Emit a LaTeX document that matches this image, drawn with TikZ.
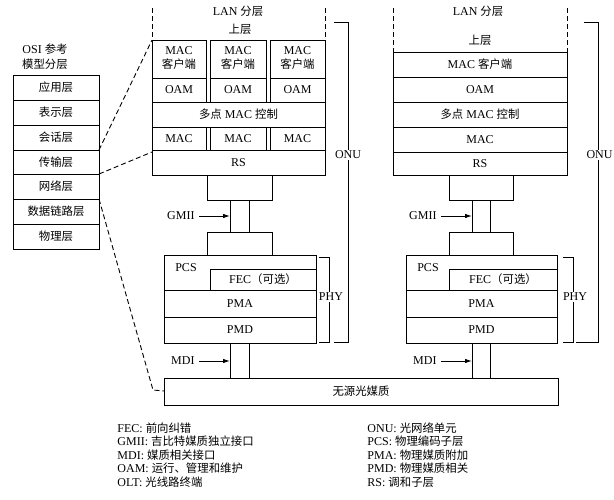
\documentclass[tikz,border=0pt]{standalone}
\usepackage{fontspec}
\setmainfont{Liberation Serif}
\newfontfamily\cjk{Noto Sans CJK SC}[Scale=0.95]
\newcommand{\zh}[1]{{\cjk #1}}
\usetikzlibrary{arrows.meta}
\begin{document}
\begin{tikzpicture}[x=1pt,y=-1pt,line width=0.9pt,
  txt/.style={font=\fontsize{12}{13}\selectfont,inner sep=0pt},
  dsh/.style={dash pattern=on 5pt off 3pt},
  arr/.style={-{Latex[length=7pt,width=4.5pt]}},
  brk/.style={}]
\useasboundingbox (0,0) rectangle (614,500);
\newcommand{\rbox}[6]{\draw (#2,#3) rectangle (#4,#5); \node[txt] (#1) at ({(#2+#4)/2},{(#3+#5)/2}) {#6};}
\newcommand{\mcl}{\begin{tabular}{@{}c@{}}MAC\\[1pt]\zh{客户端}\end{tabular}}
% OSI
\node[txt] (osit) at (45,49) {OSI \zh{参考}};
\node[txt] (osib) at (45,64) {\zh{模型分层}};
\rbox{o1}{13}{75}{99}{100}{\zh{应用层}}
\rbox{o2}{13}{100}{99}{125}{\zh{表示层}}
\rbox{o3}{13}{125}{99}{150}{\zh{会话层}}
\rbox{o4}{13}{150}{99}{174}{\zh{传输层}}
\rbox{o5}{13}{174}{99}{199}{\zh{网络层}}
\rbox{o6}{13}{199}{99}{224}{\zh{数据链路层}}
\rbox{o7}{13}{224}{99}{249}{\zh{物理层}}
% left stack
\draw[dsh] (152,8) -- (152,40); \draw[dsh] (325,8) -- (325,40);
\node[txt] (lanL) at (238,11) {LAN \zh{分层}};
\node[txt] (upL) at (240,29) {\zh{上层}};
\rbox{mc1}{152}{40}{206}{78}{\mcl}
\rbox{mc2}{210}{40}{266}{78}{\mcl}
\rbox{mc3}{270}{40}{325}{78}{\mcl}
\rbox{oa1}{152}{78}{206}{102}{OAM}
\rbox{oa2}{210}{78}{266}{102}{OAM}
\rbox{oa3}{270}{78}{325}{102}{OAM}
\rbox{mpL}{152}{102}{325}{127}{\zh{多点} MAC \zh{控制}}
\rbox{ma1}{152}{127}{206}{150}{MAC}
\rbox{ma2}{210}{127}{266}{150}{MAC}
\rbox{ma3}{270}{127}{325}{150}{MAC}
\rbox{rsL}{152}{150}{325}{175}{RS}
\draw (207,175) rectangle (272,200);
\draw (230,200) rectangle (249,232);
\draw (207,232) rectangle (272,255);
\draw (164,255) rectangle (316,290);
\node[txt] (pcsL) at (186,268) {PCS};
\rbox{fecL}{210}{269}{316}{290}{FEC\zh{（可选）}}
\rbox{pmaL}{164}{290}{316}{317}{PMA}
\rbox{pmdL}{164}{317}{316}{343}{PMD}
\draw (230,343) -- (230,378); \draw (249,343) -- (249,378);
\node[txt,anchor=east] (gmiiL) at (195,216) {GMII};
\draw[arr] (gmiiL.east) ++(4,0) -- (230,216);
\node[txt,anchor=east] (mdiL) at (195,361) {MDI};
\draw[arr] (mdiL.east) ++(4,0) -- (230,361);
% brackets left
\draw[brk] (319,257) -- (329,257) -- (329,342) -- (319,342);
\node[txt,fill=white,inner sep=1pt] (phyL) at (331,297) {PHY};
\draw[brk] (334,22) -- (348,22) -- (348,342) -- (334,342);
\node[txt,fill=white,inner sep=1pt] (onuL) at (348,155) {ONU};
% right stack
\draw[dsh] (393,8) -- (393,52); \draw[dsh] (567,8) -- (567,52);
\node[txt] (lanR) at (478,11) {LAN \zh{分层}};
\node[txt] (upR) at (480,40) {\zh{上层}};
\rbox{mcR}{393}{52}{567}{77}{MAC \zh{客户端}}
\rbox{oaR}{393}{77}{567}{102}{OAM}
\rbox{mpR}{393}{102}{567}{127}{\zh{多点} MAC \zh{控制}}
\rbox{maR}{393}{127}{567}{152}{MAC}
\rbox{rsR}{393}{152}{567}{175}{RS}
\draw (449,175) rectangle (513,200);
\draw (472,200) rectangle (490,232);
\draw (449,232) rectangle (513,255);
\draw (406,255) rectangle (557,290);
\node[txt] (pcsR) at (428,268) {PCS};
\rbox{fecR}{449}{269}{557}{290}{FEC\zh{（可选）}}
\rbox{pmaR}{406}{290}{557}{317}{PMA}
\rbox{pmdR}{406}{317}{557}{343}{PMD}
\draw (472,343) -- (472,378); \draw (490,343) -- (490,378);
\node[txt,anchor=east] (gmiiR) at (437,216) {GMII};
\draw[arr] (gmiiR.east) ++(4,0) -- (472,216);
\node[txt,anchor=east] (mdiR) at (437,361) {MDI};
\draw[arr] (mdiR.east) ++(4,0) -- (472,361);
\draw[brk] (563,257) -- (573,257) -- (573,342) -- (563,342);
\node[txt,fill=white,inner sep=1pt] (phyR) at (575,297) {PHY};
\draw[brk] (584,22) -- (598,22) -- (598,342) -- (576,342);
\node[txt,fill=white,inner sep=1pt,anchor=east] (onuR) at (614,155) {ONU};
% passive medium
\rbox{pon}{164}{378}{558}{405}{\zh{无源光媒质}}
% dashed mapping
\draw[dsh] (99,150) -- (152,40);
\draw[dsh] (99,174) -- (152,152);
\draw[dsh] (99,199) -- (153,390) -- (164,391);
% legend
\begin{scope}[every node/.style={txt,anchor=west}]
\node (l1) at (117,428) {FEC: \zh{前向纠错}};
\node (l2) at (117,441) {GMII: \zh{吉比特媒质独立接口}};
\node (l3) at (117,455) {MDI: \zh{媒质相关接口}};
\node (l4) at (117,468) {OAM: \zh{运行、管理和维护}};
\node (l5) at (117,482) {OLT: \zh{光线路终端}};
\node (r1) at (367,428) {ONU: \zh{光网络单元}};
\node (r2) at (367,441) {PCS: \zh{物理编码子层}};
\node (r3) at (367,455) {PMA: \zh{物理媒质附加}};
\node (r4) at (367,468) {PMD: \zh{物理媒质相关}};
\node (r5) at (367,482) {RS: \zh{调和子层}};
\end{scope}
\end{tikzpicture}
\end{document}
